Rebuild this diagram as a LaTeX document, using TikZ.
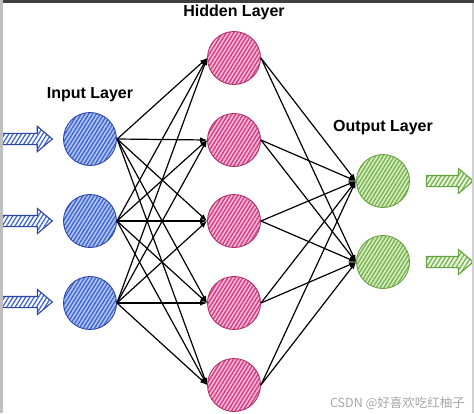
\documentclass[tikz,border=0pt]{standalone}
\usepackage{fontspec}
\setmainfont{Liberation Sans}
\newfontfamily\cjkfont{Noto Sans CJK SC}
\usetikzlibrary{arrows.meta,patterns.meta,shapes.arrows}

\definecolor{inedge}{HTML}{2A46A8}
\definecolor{inhatch}{HTML}{3F66D2}
\definecolor{inbase}{HTML}{B4C6F0}
\definecolor{hidedge}{HTML}{B02E69}
\definecolor{hidhatch}{HTML}{D63C86}
\definecolor{hidbase}{HTML}{F5BDD8}
\definecolor{outedge}{HTML}{68A341}
\definecolor{outhatch}{HTML}{75B34C}
\definecolor{outbase}{HTML}{D6EBC0}

\tikzset{
  neuron/.style={circle,draw,line width=0.9pt,minimum size=53pt,inner sep=0pt},
  inneuron/.style={neuron,draw=inedge,preaction={fill=inbase},
    pattern={Lines[angle=58,distance=3.2pt,line width=1.4pt]},pattern color=inhatch},
  hidneuron/.style={neuron,draw=hidedge,preaction={fill=hidbase},
    pattern={Lines[angle=58,distance=3.2pt,line width=1.4pt]},pattern color=hidhatch},
  outneuron/.style={neuron,draw=outedge,preaction={fill=outbase},
    pattern={Lines[angle=58,distance=3.2pt,line width=1.3pt]},pattern color=outhatch},
  feed/.style={single arrow,single arrow head extend=7pt,single arrow tip angle=80,
    text height=10pt,text depth=0pt,inner sep=0pt,line width=1.1pt,
    pattern={Lines[angle=58,distance=3.6pt,line width=1.3pt]}},
  infeed/.style={feed,minimum height=50pt,draw=inedge,pattern color=inhatch,preaction={fill=white}},
  outfeed/.style={feed,minimum height=47pt,draw=outedge,pattern color=outhatch,preaction={fill=outbase!50}},
  link/.style={draw,line width=1.2pt,-{Latex[length=7pt,width=5.5pt]}},
  layername/.style={font=\fontsize{16}{19}\selectfont\bfseries}
}

\begin{document}
\begin{tikzpicture}[x=1pt,y=-1pt]
\useasboundingbox (0,0) rectangle (474,413);
% titles
\node[layername] (tin) at (90,95) {Input Layer};
\node[layername] (thid) at (234,12) {Hidden Layer};
\node[layername] (tout) at (383,128) {Output Layer};
% neurons
\node[inneuron] (i1) at (90,139) {};
\node[inneuron] (i2) at (90,221) {};
\node[inneuron] (i3) at (90,303) {};
\node[hidneuron] (h1) at (234,58) {};
\node[hidneuron] (h2) at (234,140) {};
\node[hidneuron] (h3) at (234,221) {};
\node[hidneuron] (h4) at (234,303) {};
\node[hidneuron] (h5) at (234,385) {};
\node[outneuron] (o1) at (383,181) {};
\node[outneuron] (o2) at (383,262) {};
% block arrows
\node[infeed] (a1) at (24,139) {};
\node[infeed] (a2) at (24,221) {};
\node[infeed] (a3) at (24,302) {};
\node[outfeed] (b1) at (446.5,181) {};
\node[outfeed] (b2) at (446.5,262) {};
% links
\path (i1.east) edge[link] (h1.west);
\path (i1.east) edge[link] (h2.west);
\path (i1.east) edge[link] (h3.west);
\path (i1.east) edge[link] (h4.west);
\path (i1.east) edge[link] (h5.west);
\path (i2.east) edge[link] (h1.west);
\path (i2.east) edge[link] (h2.west);
\path (i2.east) edge[link] (h3.west);
\path (i2.east) edge[link] (h4.west);
\path (i2.east) edge[link] (h5.west);
\path (i3.east) edge[link] (h1.west);
\path (i3.east) edge[link] (h2.west);
\path (i3.east) edge[link] (h3.west);
\path (i3.east) edge[link] (h4.west);
\path (i3.east) edge[link] (h5.west);
\path (h1.east) edge[link] (o1.west);
\path (h1.east) edge[link] (o2.west);
\path (h2.east) edge[link] (o1.west);
\path (h2.east) edge[link] (o2.west);
\path (h3.east) edge[link] (o1.west);
\path (h3.east) edge[link] (o2.west);
\path (h4.east) edge[link] (o1.west);
\path (h4.east) edge[link] (o2.west);
\path (h5.east) edge[link] (o1.west);
\path (h5.east) edge[link] (o2.west);
% watermark
\node[text=black!35,font=\cjkfont\fontsize{12.5}{14}\selectfont] (mark) at (397.5,403) {CSDN @好喜欢吃红柚子};
% frame edges
\fill[black!75] (0,0) rectangle (474,2.5);
\fill[black!25] (0,0) rectangle (3,413);
\fill[black!18] (471.5,2.5) rectangle (474,413);
\end{tikzpicture}
\end{document}
